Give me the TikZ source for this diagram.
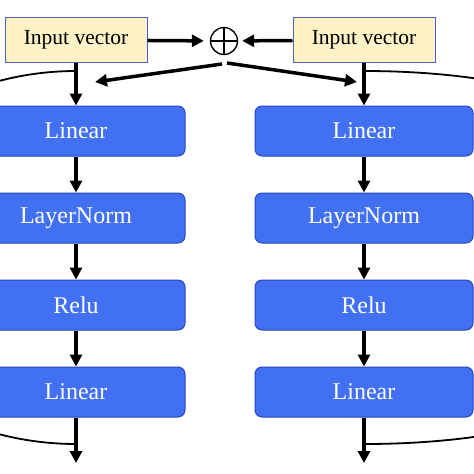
\documentclass[tikz,border=0pt]{standalone}
\usepackage{fontspec}
\setmainfont{Liberation Serif}
\usetikzlibrary{positioning,arrows.meta}
\definecolor{blkfill}{RGB}{66,112,242}
\definecolor{blkline}{RGB}{40,72,190}
\definecolor{infill}{RGB}{252,242,198}
\definecolor{inline}{RGB}{70,100,200}
\begin{document}
\begin{tikzpicture}[x=1pt, y=-1pt, node distance=87pt,
    blk/.style={draw=blkline, line width=1pt, fill=blkfill, rounded corners=7pt, minimum width=218pt, minimum height=50pt, text=white, font=\fontsize{24}{24}\selectfont},
    inbox/.style={draw=inline, line width=1pt, fill=infill, minimum width=142pt, minimum height=45pt, font=\fontsize{21.5}{22}\selectfont},
    sum/.style={circle, draw, line width=1.4pt, minimum size=27pt, inner sep=0pt,
      path picture={\draw[line width=1.1pt] (path picture bounding box.north) -- (path picture bounding box.south) (path picture bounding box.west) -- (path picture bounding box.east);}},
    arr/.style={line width=3.5pt, -{Triangle[length=12pt,width=12pt]}},
    skip/.style={line width=1.8pt}]
    \useasboundingbox (0,0) rectangle (474,474);
    \clip (0,0) rectangle (474,474);

    \node[inbox] (in1) at (76,40) {Input vector};
    \node[inbox] (in2) at (364,40) {Input vector};
    \node[sum] (add) at (224,41) {};
    \coordinate (split1) at (222,64);
    \coordinate (split2) at (227,63);

    \node[blk] (lin1) at (76,131) {Linear};
    \node[blk] (norm1) [below of=lin1] {LayerNorm};
    \node[blk] (relu1) [below of=norm1] {Relu};
    \node[blk] (out1) [below of=relu1] {Linear};

    \node[blk] (lin2) at (364,131) {Linear};
    \node[blk] (norm2) [below of=lin2] {LayerNorm};
    \node[blk] (relu2) [below of=norm2] {Relu};
    \node[blk] (out2) [below of=relu2] {Linear};

    \coordinate (top1) at (76,71);
    \coordinate (top2) at (364,71);
    \coordinate (bot1) at (76,444);
    \coordinate (bot2) at (364,444);
    \coordinate (end1) at (76,463);
    \coordinate (end2) at (364,463);
    \coordinate (tip1) at (95,82);
    \coordinate (tip2) at (357,82);
    \coordinate (far1) at (-160,258);
    \coordinate (far2) at (700,258);

    \draw[arr, shorten >=6pt] (in1) -- (add);
    \draw[arr, shorten >=4pt] (in2) -- (add);
    \draw[arr] (split1) -- (tip1);
    \draw[arr] (split2) -- (tip2);

    \draw[arr] (in1) -- (lin1);
    \draw[arr] (lin1) -- (norm1);
    \draw[arr] (norm1) -- (relu1);
    \draw[arr] (relu1) -- (out1);
    \draw[arr] (out1) -- (end1);

    \draw[arr] (in2) -- (lin2);
    \draw[arr] (lin2) -- (norm2);
    \draw[arr] (norm2) -- (relu2);
    \draw[arr] (relu2) -- (out2);
    \draw[arr] (out2) -- (end2);

    \draw[skip] (top1) to[out=180, in=90] (far1) to[out=-90, in=180] (bot1);
    \draw[skip] (top2) to[out=0, in=90] (far2) to[out=-90, in=0] (bot2);
\end{tikzpicture}
\end{document}
